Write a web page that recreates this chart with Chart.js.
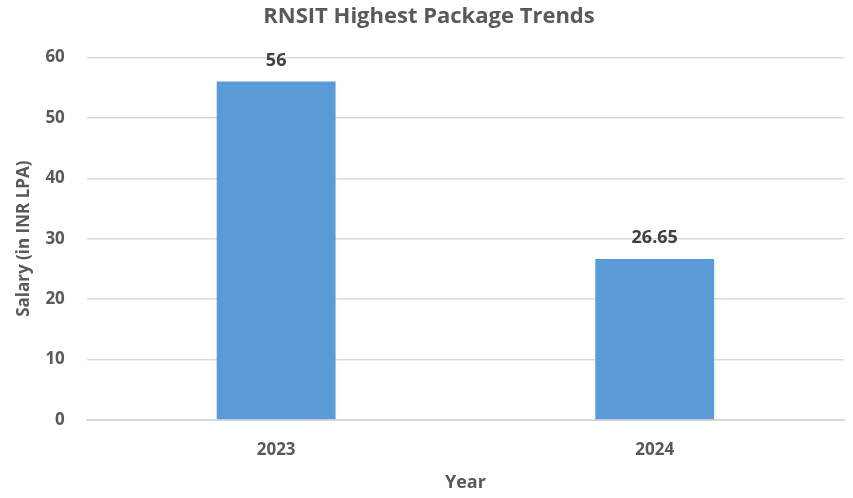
<!DOCTYPE html>
<html>
<head>
<meta charset="utf-8">
<script src="https://cdn.jsdelivr.net/npm/chart.js@4/dist/chart.umd.min.js"></script>
<style>
  html, body { margin: 0; padding: 0; background: #fff; overflow: hidden; }
  #wrap { width: 853px; height: 498px; }
</style>
</head>
<body>
<div id="wrap"><canvas id="chart"></canvas></div>
<script>
const years = ["2023", "2024"];
const packages = [56, 26.65];
const yTicks = [0, 10, 20, 30, 40, 50, 60];

const FONT = "'Open Sans', sans-serif";
const GREY = "#595959";

// values drawn above each bar
const barLabels = {
    id: "barLabels",
    afterDatasetsDraw(chart) {
        const c = chart.ctx;
        const meta = chart.getDatasetMeta(0);
        c.save();
        c.font = "bold 18px " + FONT;
        c.fillStyle = "#404040";
        c.textAlign = "center";
        c.textBaseline = "bottom";
        meta.data.forEach((bar, i) => {
            c.fillText(String(packages[i]), bar.x, bar.y - 12);
        });
        c.restore();
    }
};

new Chart(document.getElementById("chart"), {
    type: "bar",
    data: {
        labels: years,
        datasets: [{
            data: packages,
            backgroundColor: "#5b9bd5",
            categoryPercentage: 1,
            barPercentage: 0.314
        }]
    },
    options: {
        responsive: true,
        maintainAspectRatio: false,
        animation: false,
        layout: { padding: { top: 3, right: 9, bottom: 0, left: 14 } },
        plugins: {
            legend: { display: false },
            tooltip: { enabled: false },
            title: {
                display: true,
                text: "RNSIT Highest Package Trends",
                color: GREY,
                font: { family: FONT, size: 22, weight: "bold" },
                padding: { top: 1, bottom: 27 }
            }
        },
        scales: {
            x: {
                grid: { display: false },
                border: { color: "#d9d9d9", width: 2 },
                ticks: {
                    color: GREY,
                    font: { family: FONT, size: 17, weight: "bold" },
                    padding: 12
                },
                title: {
                    display: true,
                    text: "Year",
                    color: GREY,
                    font: { family: FONT, size: 18, weight: "bold" },
                    padding: { top: 0 }
                }
            },
            y: {
                min: 0,
                max: 60,
                afterBuildTicks(axis) {
                    axis.ticks = yTicks.map(v => ({ value: v }));
                },
                grid: { color: "#d9d9d9", lineWidth: 1.5, drawTicks: false },
                border: { display: false },
                ticks: {
                    color: GREY,
                    font: { family: FONT, size: 17, weight: "bold" },
                    padding: 22
                },
                title: {
                    display: true,
                    text: "Salary (in INR LPA)",
                    color: GREY,
                    font: { family: FONT, size: 17, weight: "bold" },
                    padding: { top: 0, bottom: -11 }
                }
            }
        }
    },
    plugins: [barLabels]
});
</script>
</body>
</html>
